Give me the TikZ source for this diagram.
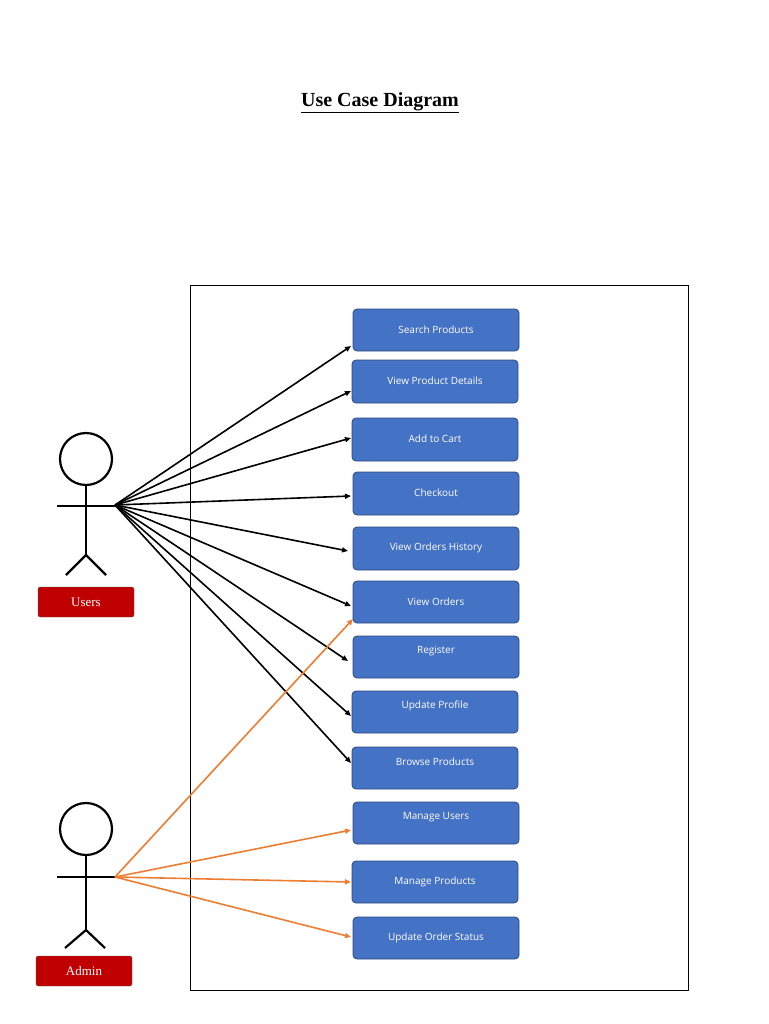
\documentclass[tikz,border=0pt]{standalone}
\usepackage{fontspec}
\setmainfont{Liberation Serif}
\newfontfamily\boxfont{Open Sans}
\usetikzlibrary{arrows.meta}
\definecolor{boxblue}{HTML}{4472C4}
\definecolor{boxedge}{HTML}{2E4A7D}
\definecolor{actred}{HTML}{C00000}
\definecolor{adminor}{HTML}{ED7D31}
\begin{document}
\begin{tikzpicture}[x=1pt,y=-1pt,
 uc/.style={draw=boxedge,fill=boxblue,rounded corners=4pt,line width=0.8pt},
 uct/.style={text=white,font=\boxfont\fontsize{10}{12}\selectfont},
 lab/.style={draw=black!60,fill=actred,rounded corners=2pt,text=white,font=\fontsize{13}{15}\selectfont,minimum width=96pt,minimum height=30pt,inner sep=0pt},
 ua/.style={line width=1.6pt,-{Triangle[length=6pt,width=5pt]}},
 aa/.style={ua,draw=adminor,fill=adminor},
 limb/.style={line width=2.2pt}]
\useasboundingbox (0,0) rectangle (768,1024);
\node[font=\bfseries\fontsize{20}{24}\selectfont] (title) at (380,103) {\underline{Use Case Diagram}};
\draw[line width=1pt] (190,285) rectangle (688,990);
% use cases: name, x0, y0, x1, y1, text y, text
\foreach \n/\xa/\ya/\xb/\yb/\ty/\t in {
 sp/353/309/519/351/330/Search Products,
 vpd/352/360/518/403/381/View Product Details,
 ac/352/418/518/461/439/Add to Cart,
 co/353/472/519/515/493/Checkout/Place Order,
 voh/353/527/519/570/548/View Orders History,
 vo/353/581/519/623/602/View Orders,
 rl/353/636/519/678/651/Register/Login,
 up/352/691/518/733/706/Update Profile,
 bp/352/747/518/789/762/Browse Products,
 mu/353/802/519/844/817/Manage Users,
 mp/352/861/518/903/882/Manage Products,
 uos/353/917/519/959/938/Update Order Status}{
 \draw[uc] (\xa,\ya) rectangle (\xb,\yb);
 \node[uct] (\n) at ({(\xa+\xb)/2},\ty) {\t};
 \coordinate (\n L) at (\xa,{(\ya+\yb)/2});
}
% Users actor
\draw[limb] (86,459) circle (26);
\draw[limb] (86,485) -- (86,555);
\draw[limb] (57,506) -- (115,506);
\draw[limb] (86,555) -- (66,575);
\draw[limb] (86,555) -- (106,575);
\coordinate (u) at (115,505);
\node[lab] (users) at (86,602) {Users};
% Admin actor
\draw[limb] (86,829) circle (26);
\draw[limb] (86,855) -- (86,930);
\draw[limb] (57,877) -- (115,877);
\draw[limb] (86,930) -- (65,948);
\draw[limb] (86,930) -- (105,948);
\coordinate (a) at (115,877);
\node[lab] (admin) at (84,971) {Admin};
% user arrows
\coordinate (t1) at (351,346); \coordinate (t2) at (351,391);
\coordinate (t3) at (351,438); \coordinate (t4) at (351,496);
\coordinate (t5) at (348,551); \coordinate (t6) at (351,606);
\coordinate (t7) at (348,661); \coordinate (t8) at (351,716);
\coordinate (t9) at (351,763);
\foreach \t in {t1,t2,t3,t4,t5,t6,t7,t8,t9} \draw[ua] (u) -- (\t);
% admin arrows
\coordinate (s1) at (353,619); \coordinate (s2) at (351,830);
\coordinate (s3) at (351,882); \coordinate (s4) at (351,937);
\foreach \s in {s1,s2,s3,s4} \draw[aa] (a) -- (\s);
\end{tikzpicture}
\end{document}
